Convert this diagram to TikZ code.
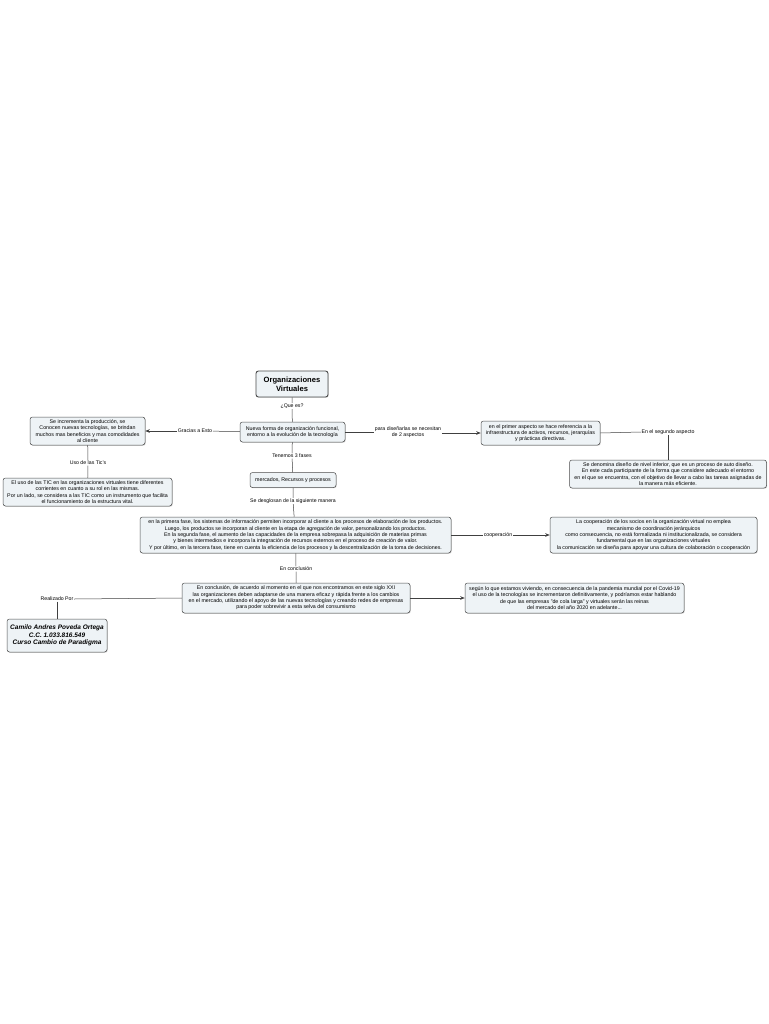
\documentclass[tikz,border=0pt]{standalone}
\usepackage{fontspec}
\setmainfont{Liberation Sans}
\usetikzlibrary{arrows.meta,shadows}
\begin{document}
\begin{tikzpicture}[x=1pt,y=-1pt,
  box/.style={draw=black!70, line width=0.5pt, fill=boxfill, rounded corners=2.5pt,
    align=center, inner sep=1pt, font=\fontsize{5.3}{6.3}\selectfont,
    drop shadow={shadow xshift=0.7pt, shadow yshift=-0.7pt, fill=black!30, opacity=0.6}},
  lbl/.style={fill=white, inner sep=0.6pt, font=\fontsize{5.2}{6.2}\selectfont, align=center},
  conn/.style={draw=black!75, line width=0.5pt},
  arr/.style={conn, -{Stealth[length=4.5pt,width=3.5pt]}}]
\definecolor{boxfill}{HTML}{EEF3F6}
\useasboundingbox[fill=white] (0,0) rectangle (768,1024);

\node[box, minimum width=72pt, minimum height=26pt, line width=0.9pt, font=\fontsize{7.6}{8.8}\selectfont\bfseries] (title) at (292,384) {Organizaciones\\Virtuales};
\node[box, minimum width=105pt, minimum height=20pt] (nueva) at (292.5,432) {Nueva forma de organización funcional,\\entorno a la evolución de la tecnología};
\node[box, minimum width=115pt, minimum height=28pt] (incr) at (87.5,431) {Se incrementa la producción, se\\Conocen nuevas tecnologías, se brindan\\muchos mas beneficios y mas comodidades\\al cliente};
\node[box, minimum width=169pt, minimum height=28pt] (uso) at (87.5,492) {El uso de las TIC en las organizaciones virtuales tiene diferentes\\corrientes en cuanto a su rol en las mismas.\\Por un lado, se considera a las TIC como un instrumento que facilita\\el funcionamiento de la estructura vital.};
\node[box, minimum width=119pt, minimum height=24pt] (prim) at (540.5,433) {en el primer aspecto se hace referencia a la\\infraestructura de activos, recursos, jerarquías\\y prácticas directivas.};
\node[box, minimum width=197pt, minimum height=28pt] (seg) at (668,474) {Se denomina diseño de nivel inferior, que es un proceso de auto diseño.\\En este cada participante de la forma que considere adecuado el entorno\\en el que se encuentra, con el objetivo de llevar a cabo las tareas asignadas de\\la manera más eficiente.};
\node[box, minimum width=86pt, minimum height=15pt] (merc) at (293,480) {mercados, Recursos y procesos};
\node[box, minimum width=311pt, minimum height=36pt] (fases) at (295.5,535) {en la primera fase, los sistemas de información permiten incorporar al cliente a los procesos de elaboración de los productos.\\Luego, los productos se incorporan al cliente en la etapa de agregación de valor, personalizando los productos.\\En la segunda fase, el aumento de las capacidades de la empresa sobrepasa la adquisición de materias primas\\y bienes intermedios e incorpora la integración de recursos externos en el proceso de creación de valor.\\Y por último, en la tercera fase, tiene en cuenta la eficiencia de los procesos y la descentralización de la toma de decisiones.};
\node[box, minimum width=207pt, minimum height=36pt] (coop) at (653.5,535) {La cooperación de los socios en la organización virtual no emplea\\mecanismo de coordinación jerárquicos\\como consecuencia, no está formalizada ni institucionalizada, se considera\\fundamental que en las organizaciones virtuales\\la comunicación se diseña para apoyar una cultura de colaboración o cooperación};
\node[box, minimum width=228pt, minimum height=30pt] (concl) at (296,598) {En conclusión, de acuerdo al momento en el que nos encontramos en este siglo XXI\\las organizaciones deben adaptarse de una manera eficaz y rápida frente a los cambios\\en el mercado, utilizando el apoyo de las nuevas tecnologías y creando redes de empresas\\para poder sobrevivir a esta selva del consumismo};
\node[box, minimum width=219pt, minimum height=30pt] (segun) at (574.5,598) {según lo que estamos viviendo, en consecuencia de la pandemia mundial por el Covid-19\\el uso de la tecnologías se incrementaron definitivamente, y podríamos estar hablando\\de que las empresas "de cola larga" y virtuales serán las reinas\\del mercado del año 2020 en adelante...};
\node[box, minimum width=100pt, minimum height=33pt, font=\fontsize{6.5}{7.7}\selectfont\bfseries\itshape] (autor) at (57,635.5) {Camilo Andres Poveda Ortega\\C.C. 1.033.816.549\\Curso Cambio de Paradigma};

\node[lbl] (lqes) at (292,406) {¿Que es?};
\node[lbl] (lgra) at (195,431) {Gracias a Esto};
\node[lbl] (luso) at (88,463) {Uso de las Tic's};
\node[lbl] (lpara) at (408,432.5) {para diseñarlas se necesitan\\de 2 aspectos};
\node[lbl] (lseg) at (668,432) {En el segundo aspecto};
\node[lbl] (ltres) at (292,456) {Tenemos 3 fases};
\node[lbl] (ldesg) at (293,501) {Se desglosan de la siguiente manera};
\node[lbl] (lcoop) at (498,535) {cooperación};
\node[lbl] (lconc) at (296,569) {En conclusión};
\node[lbl] (lreal) at (57,599) {Realizado Por};

\draw[conn] (title) -- (lqes) -- (nueva);
\draw[conn] (nueva) -- (lgra);
\draw[arr] (lgra) -- (incr);
\draw[conn] (incr) -- (luso) -- (uso);
\draw[conn] (nueva.east) -- (lpara.west |- nueva.east);
\draw[arr] (lpara.east |- prim.west) -- (prim.west);
\draw[conn] (prim.east) -- (lseg.west);
\draw[conn] (lseg) -- (seg);
\draw[conn] (nueva) -- (ltres) -- (merc);
\draw[conn] (merc) -- (ldesg) -- (fases);
\draw[conn] (fases) -- (lcoop);
\draw[arr] (lcoop) -- (coop);
\draw[conn] (fases) -- (lconc) -- (concl);
\draw[conn] (concl.west) -- (lreal.east);
\draw[conn, line width=0.9pt] (lreal) -- (autor);
\draw[arr] (concl.east) -- (segun.west);
\end{tikzpicture}
\end{document}
